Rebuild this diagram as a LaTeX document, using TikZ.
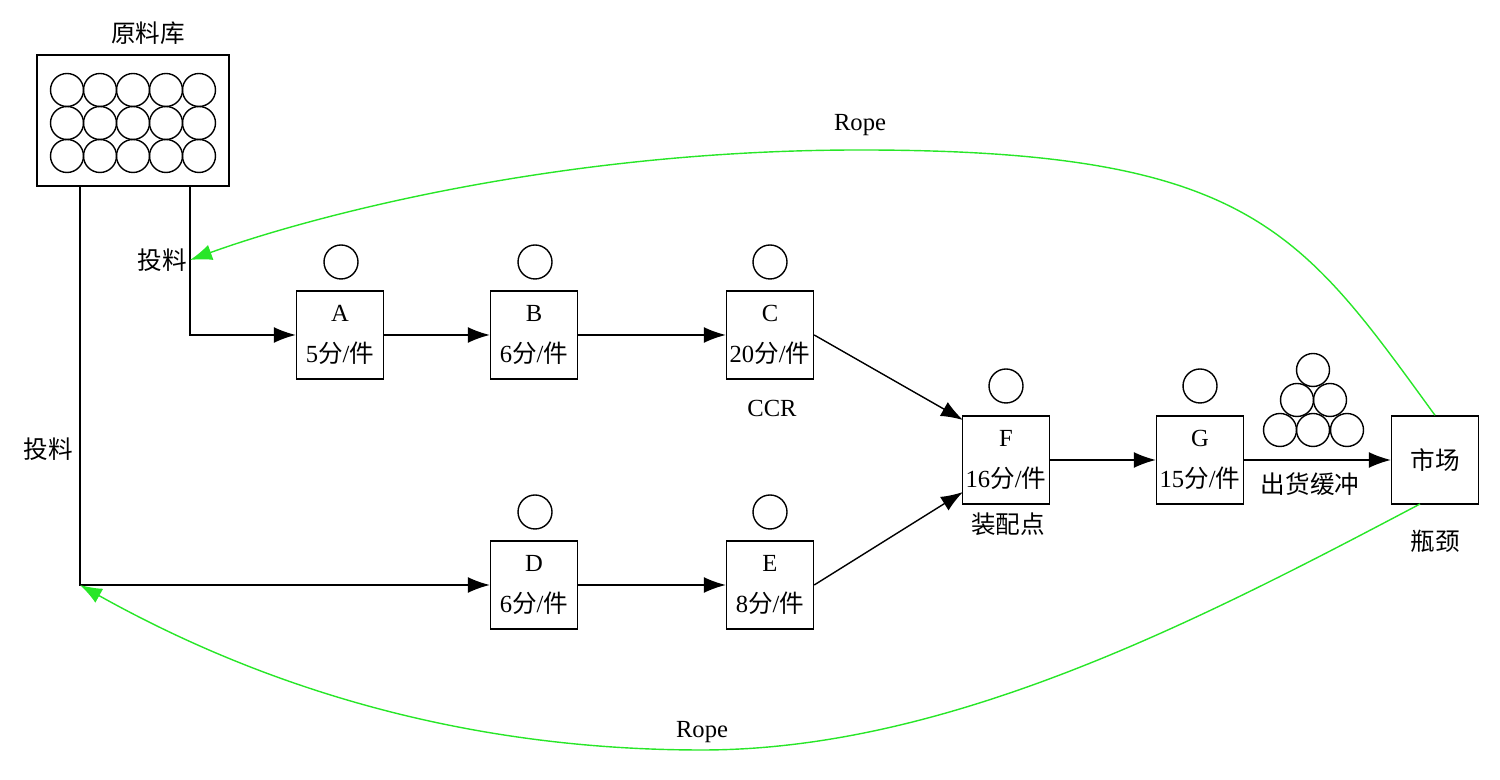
\documentclass[tikz,border=0pt]{standalone}
\usepackage{fontspec}
\setmainfont{Liberation Serif}
\newfontfamily\cjk{Noto Sans CJK SC}
\usetikzlibrary{arrows.meta}
\begin{document}
\begin{tikzpicture}[x=0.1mm,y=-0.1mm,
  font=\fontsize{7}{8.5}\selectfont,
  box/.style={draw,minimum width=8.7mm,minimum height=8.8mm,inner sep=0pt,align=center,font=\fontsize{7}{11.5}\selectfont},
  op/.style={draw,circle,minimum size=3.4mm,inner sep=0pt},
  st/.style={draw,circle,minimum size=3.3mm,inner sep=0pt},
  arr/.style={-{Latex[length=2.2mm,width=1.6mm]}},
  rope/.style={draw={rgb,255:red,40;green,230;blue,40},-{Latex[length=2.2mm,width=1.6mm]}}]
\useasboundingbox (0,0) rectangle (1500,780);
% raw material store
\node[draw,minimum width=19.2mm,minimum height=13.1mm,inner sep=0pt] (store) at (133,120.5) {};
\node at (148,33) {\cjk 原料库};
\foreach \i/\x in {1/67,2/100,3/133,4/166,5/199}
  \foreach \j/\y in {1/90,2/123,3/156}
    \node[st] (s\i\j) at (\x,\y) {};
% boxes
\node[box] (A) at (340,335) {A\\5{\cjk 分}/{\cjk 件}};
\node[box] (B) at (534,335) {B\\6{\cjk 分}/{\cjk 件}};
\node[box] (C) at (770,335) {C\\20{\cjk 分}/{\cjk 件}};
\node[box] (D) at (534,585) {D\\6{\cjk 分}/{\cjk 件}};
\node[box] (E) at (770,585) {E\\8{\cjk 分}/{\cjk 件}};
\node[box] (F) at (1006,460) {F\\16{\cjk 分}/{\cjk 件}};
\node[box] (G) at (1200,460) {G\\15{\cjk 分}/{\cjk 件}};
\node[box] (M) at (1435,460) {\cjk 市场};
% operators
\node[op] (oA) at (341,262) {};
\node[op] (oB) at (535,262) {};
\node[op] (oC) at (770,262) {};
\node[op] (oD) at (535,512) {};
\node[op] (oE) at (770,512) {};
\node[op] (oF) at (1006,386) {};
\node[op] (oG) at (1200,386) {};
% buffer pile
\node[st] (p1) at (1280,430) {};
\node[st] (p2) at (1313,430) {};
\node[st] (p3) at (1347,430) {};
\node[st] (p4) at (1297,400) {};
\node[st] (p5) at (1330,400) {};
\node[st] (p6) at (1313,370) {};
% labels
\node at (162,260) {\cjk 投料};
\node at (48,449) {\cjk 投料};
\node at (772,408) {CCR};
\node at (1008,524) {\cjk 装配点};
\node at (1310,484) {\cjk 出货缓冲};
\node at (1435,541) {\cjk 瓶颈};
\node at (860,125) {Rope};
\node at (702,732) {Rope};
% coordinates
\coordinate (r1) at (190,186);
\coordinate (r2) at (80,186);
\coordinate (t1) at (190,260);
\coordinate (t2) at (80,585);
% flow
\draw[arr] (r1) |- (A.west);
\draw[arr] (r2) |- (D.west);
\draw[arr] (A) -- (B);
\draw[arr] (B) -- (C);
\draw[arr] (D) -- (E);
\draw[arr] (C.east) -- (963,420);
\draw[arr] (E.east) -- (963,492);
\draw[arr] (F) -- (G);
\draw[arr] (G) -- (M);
% ropes
\draw[rope] (M.north) .. controls (1300,230) and (1250,150) .. (860,150) .. controls (550,150) and (300,220) .. (t1);
\draw[rope] (1420,504) .. controls (1200,620) and (950,750) .. (702,750) .. controls (450,750) and (250,680) .. (t2);
\end{tikzpicture}
\end{document}
